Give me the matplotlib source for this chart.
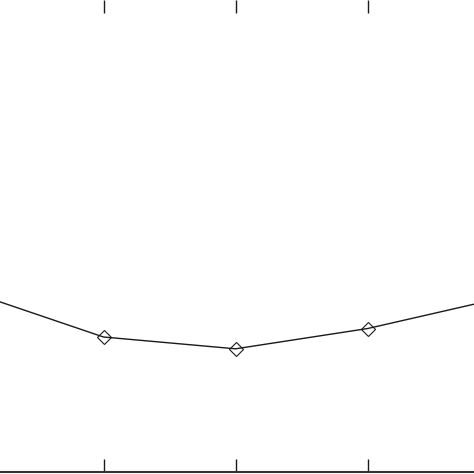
import matplotlib
matplotlib.use('Agg')
import matplotlib.pyplot as plt

x_vals = [1, 2, 3, 4, 5]
y_vals = [3.81, 2.86, 2.61, 3.04, 3.68]
x_ticks = [2, 3, 4]

fig = plt.figure(figsize=(4.74, 4.74), dpi=100)
ax = fig.add_axes([0, 2 / 474, 1, 472 / 474])

ax.plot(x_vals, y_vals, color='#1a1a1a', linewidth=1.0, marker='D',
        markersize=7.5, markerfacecolor='none', markeredgecolor='#1a1a1a',
        markeredgewidth=0.8)

ax.set_xlim(1.2165, 4.8047)
ax.set_ylim(0, 10)
ax.set_xticks(x_ticks)
ax.set_yticks([])
ax.tick_params(axis='x', direction='in', length=9.4, width=1.0, color='#1a1a1a',
               top=True, bottom=True, labelbottom=False, labeltop=False)
for side in ['top', 'left', 'right']:
    ax.spines[side].set_visible(False)
ax.spines['bottom'].set_linewidth(1.5)
ax.spines['bottom'].set_color('#333333')

fig.savefig('out.png', dpi=100)
